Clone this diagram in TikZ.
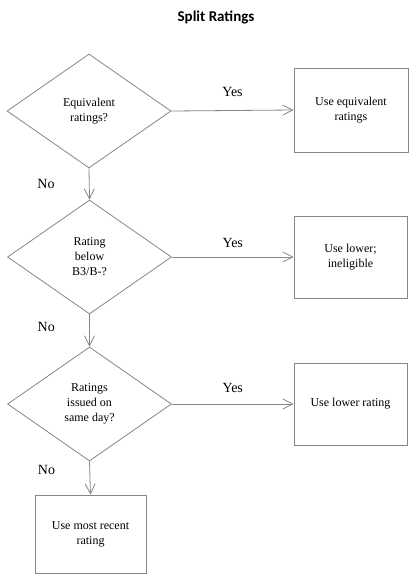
\documentclass[tikz,border=0pt]{standalone}
\usepackage{fontspec}
\setmainfont{Liberation Serif}
\newfontfamily\titlefont{Carlito}
\usetikzlibrary{shapes.geometric,arrows.meta}
\definecolor{edgegray}{RGB}{135,135,135}

\begin{document}
\begin{tikzpicture}[x=1pt, y=-1pt, every node/.style={font=\fontsize{12}{15}\selectfont}]
    \tikzset{decision/.style={diamond, draw=edgegray, line width=0.8pt, inner sep=0pt, minimum width=164pt, minimum height=114pt, align=center}}
    \tikzset{outcome/.style={rectangle, draw=edgegray, line width=0.8pt, inner sep=0pt, align=center}}
    \tikzset{line/.style={draw=edgegray, line width=0.8pt, -{Straight Barb[length=10pt, width=10pt]}}}
    \tikzset{answer/.style={font=\fontsize{14}{16}\selectfont}}

    \useasboundingbox[fill=white] (0,0) rectangle (416,579);

    \node [font=\titlefont\bfseries\fontsize{15}{18}\selectfont] (title) at (216,17) {Split Ratings};

    % Decisions
    \node [decision] (q_equiv) at (89,111) {Equivalent\\ratings?};
    \node [decision] (q_below) at (89.5,257) {Rating\\below\\B3/B-?};
    \node [decision] (q_day) at (89.5,404) {Ratings\\issued on\\same day?};

    % Outcomes
    \node [outcome, minimum width=114pt, minimum height=84pt] (r_equiv) at (351,110) {Use equivalent\\ratings};
    \node [outcome, minimum width=113pt, minimum height=82pt] (r_below) at (350.5,257) {Use lower;\\ineligible};
    \node [outcome, minimum width=113pt, minimum height=82pt] (r_day) at (350.5,404) {Use lower rating};
    \node [outcome, minimum width=111pt, minimum height=78pt] (r_recent) at (90.5,534) {Use most recent\\rating};

    \path [line] (q_equiv.east) -- node [answer, midway, above=10pt] {Yes} (r_equiv.west);
    \path [line] (q_below.east) -- node [answer, midway, above=6pt] {Yes} (r_below.west);
    \path [line] (q_day.east) -- node [answer, midway, above=8pt] {Yes} (r_day.west);

    \path [line] (q_equiv.south) -- node [answer, pos=0.5, left=31pt] {No} (q_below.north);
    \path [line] (q_below.south) -- node [answer, pos=0.4, left=31pt] {No} (q_day.north);
    \path [line] (q_day.south) -- node [answer, pos=0.25, left=31pt] {No} (r_recent.north);
\end{tikzpicture}
\end{document}
